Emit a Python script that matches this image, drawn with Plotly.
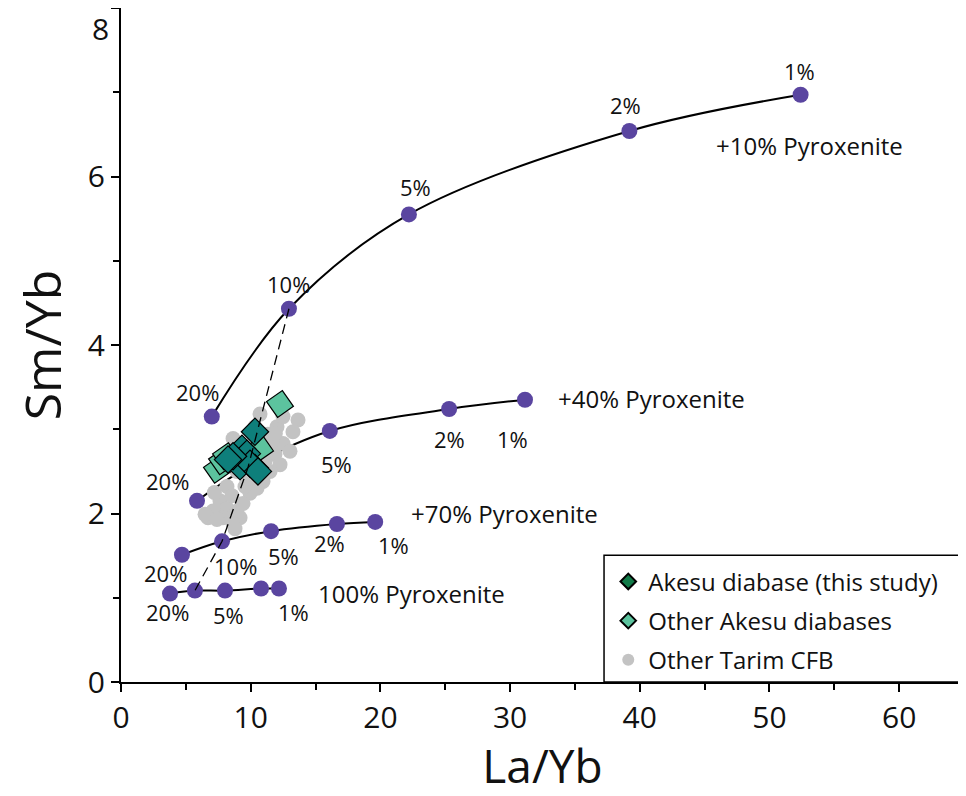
import plotly.graph_objects as go

# melting-model curves, points ordered 1% -> 20% partial melting
melt_labels = ["1%", "2%", "5%", "10%", "20%"]
px10_la = [52.4, 39.2, 22.2, 12.95, 7.0]
px10_sm = [6.97, 6.54, 5.55, 4.43, 3.15]
px40_la = [31.15, 25.3, 16.1, 9.8, 5.86]
px40_sm = [3.35, 3.24, 2.98, 2.55, 2.15]
px70_la = [19.6, 16.65, 11.57, 7.79, 4.70]
px70_sm = [1.90, 1.875, 1.79, 1.67, 1.51]
px100_la = [12.18, 10.8, 8.02, 5.7, 3.78]
px100_sm = [1.11, 1.11, 1.085, 1.085, 1.05]

# Akesu diabase (this study)
akesu_la = [10.33, 9.33, 9.71, 9.18, 10.33, 9.95, 8.64, 8.25, 10.56]
akesu_sm = [2.97, 2.77, 2.71, 2.56, 2.54, 2.59, 2.68, 2.64, 2.50]

# other Akesu diabases
other_akesu_la = [12.26, 7.40, 7.79, 10.72, 8.10]
other_akesu_sm = [3.30, 2.52, 2.62, 2.77, 2.68]

# other Tarim CFB
tarim_la = [10.72, 13.65, 12.03, 13.26, 11.33, 12.49, 13.03, 11.87, 12.26, 11.49,
            10.95, 10.49, 9.95, 8.64, 8.17, 7.63, 8.17, 7.09, 6.71, 8.94,
            9.41, 9.18, 8.64, 7.86, 8.79, 6.48, 7.40, 9.71, 10.18, 11.10,
            10.56, 12.49, 10.33, 8.94, 8.56, 9.56, 11.64, 7.2, 9.9, 11.9]
tarim_sm = [3.18, 3.11, 3.03, 2.97, 2.94, 2.83, 2.74, 2.70, 2.58, 2.50,
            2.38, 2.30, 2.24, 2.89, 2.32, 2.15, 2.06, 2.03, 1.95, 2.03,
            2.12, 1.95, 1.88, 1.95, 1.82, 1.99, 1.93, 2.50, 2.59, 2.62,
            2.77, 3.15, 3.03, 2.50, 2.21, 2.32, 2.85, 2.25, 2.42, 2.95]

curve_names = ["+10% Pyroxenite", "+40% Pyroxenite", "+70% Pyroxenite", "100% Pyroxenite"]
curve_name_pos = [(53.1, 6.37), (40.9, 3.37), (29.6, 2.0), (22.4, 1.05)]

# melt-degree labels: (text, x, y)
pct_labels = [
    ("1%", 52.3, 7.25), ("2%", 38.9, 6.85), ("5%", 22.7, 5.88), ("10%", 12.9, 4.72), ("20%", 5.86, 3.44),
    ("1%", 30.2, 2.89), ("2%", 25.3, 2.89), ("5%", 16.65, 2.59), ("20%", 3.62, 2.38),
    ("1%", 21.0, 1.63), ("2%", 16.1, 1.65), ("5%", 12.5, 1.50), ("10%", 8.8, 1.38), ("20%", 3.4, 1.29),
    ("1%", 13.3, 0.83), ("5%", 8.25, 0.79), ("20%", 3.6, 0.83),
]

y_ticks = [0, 2, 4, 6, 8]

FONT = "Open Sans"
PURPLE = "#5a45a0"
TEAL = "#0e7f7b"
MINT = "#5cc39e"
GREY = "#c3c3c3"

curves = [(px10_la, px10_sm), (px40_la, px40_sm), (px70_la, px70_sm), (px100_la, px100_sm)]

fig = go.Figure()

for la, sm in curves:
    fig.add_trace(go.Scatter(x=la, y=sm, mode="lines", line=dict(color="black", width=2, shape="spline"),
                             showlegend=False, hoverinfo="skip"))

fig.add_trace(go.Scatter(x=tarim_la, y=tarim_sm, mode="markers", showlegend=False,
                         marker=dict(color=GREY, size=15, line=dict(width=0))))

for la, sm in curves:
    fig.add_trace(go.Scatter(x=la, y=sm, mode="markers", showlegend=False, text=melt_labels,
                             marker=dict(color=PURPLE, size=16, line=dict(width=0))))

fig.add_trace(go.Scatter(x=other_akesu_la, y=other_akesu_sm, mode="markers", showlegend=False,
                         marker=dict(symbol="diamond", color=MINT, size=21, angle=10,
                                     line=dict(color="black", width=1.2))))
fig.add_trace(go.Scatter(x=akesu_la, y=akesu_sm, mode="markers", showlegend=False,
                         marker=dict(symbol="diamond", color=TEAL, size=21,
                                     line=dict(color="black", width=1.2))))

# dashed line joining the 10% melt points
fig.add_trace(go.Scatter(x=[c[0][3] for c in curves], y=[c[1][3] for c in curves], mode="lines",
                         line=dict(color="black", width=1.3, dash="10px,6px"),
                         showlegend=False, hoverinfo="skip"))

# legend-only entries
fig.add_trace(go.Scatter(x=[None], y=[None], mode="markers", name="Akesu diabase (this study)", legendgroup="a",
                         marker=dict(symbol="diamond", color="#117a48", size=18, line=dict(color="black", width=1))))
fig.add_trace(go.Scatter(x=[None], y=[None], mode="markers", name="Other Akesu diabases", legendgroup="b",
                         marker=dict(symbol="diamond", color=MINT, size=18, line=dict(color="black", width=1))))
fig.add_trace(go.Scatter(x=[None], y=[None], mode="markers", name="Other Tarim CFB", legendgroup="c",
                         marker=dict(color=GREY, size=15)))

for text, x, y in pct_labels:
    fig.add_annotation(x=x, y=y, text=text, showarrow=False, font=dict(family=FONT, size=22, color="#111"))
for text, (x, y) in zip(curve_names, curve_name_pos):
    fig.add_annotation(x=x, y=y, text=text, showarrow=False, font=dict(family=FONT, size=24, color="#111"))

# top tick label kept inside the page
fig.add_annotation(xref="paper", yref="paper", x=0, y=1, xanchor="right", yanchor="top", xshift=-10, yshift=2,
                   text=str(y_ticks[-1]), showarrow=False, font=dict(family=FONT, size=30, color="#111"))

# legend frame
fig.add_shape(type="rect", xref="paper", yref="paper", x0=0.573, x1=1.0, y0=0.0, y1=0.188,
              line=dict(color="black", width=1.5), fillcolor="white", layer="below")

axis_common = dict(showline=True, linecolor="black", linewidth=2, mirror=True, showgrid=False,
                   zeroline=False, ticks="outside", ticklen=8, tickwidth=1.5, tickcolor="black",
                   automargin=False, tickfont=dict(family=FONT, size=30, color="#111"))

fig.update_layout(
    width=958, height=788,
    margin=dict(l=113, r=2, t=0, b=114),
    paper_bgcolor="white", plot_bgcolor="white",
    font=dict(family=FONT, color="#111"),
    xaxis=dict(range=[0, 65], dtick=10, minor=dict(dtick=5, ticks="outside", ticklen=6, tickcolor="black"),
               title=dict(text="La/Yb", font=dict(family=FONT, size=46), standoff=24), **axis_common),
    yaxis=dict(range=[0, 8], tickvals=y_ticks, ticktext=[str(v) for v in y_ticks[:-1]] + [""],
               minor=dict(dtick=1, ticks="outside", ticklen=6, tickcolor="black"),
               title=dict(text="Sm/Yb", font=dict(family=FONT, size=50), standoff=36), **axis_common),
    legend=dict(x=0.578, y=0.182, xanchor="left", yanchor="top", bgcolor="rgba(0,0,0,0)",
                tracegroupgap=5, font=dict(family=FONT, size=24, color="#111"), itemsizing="constant"),
)

fig.write_html("out.html")
